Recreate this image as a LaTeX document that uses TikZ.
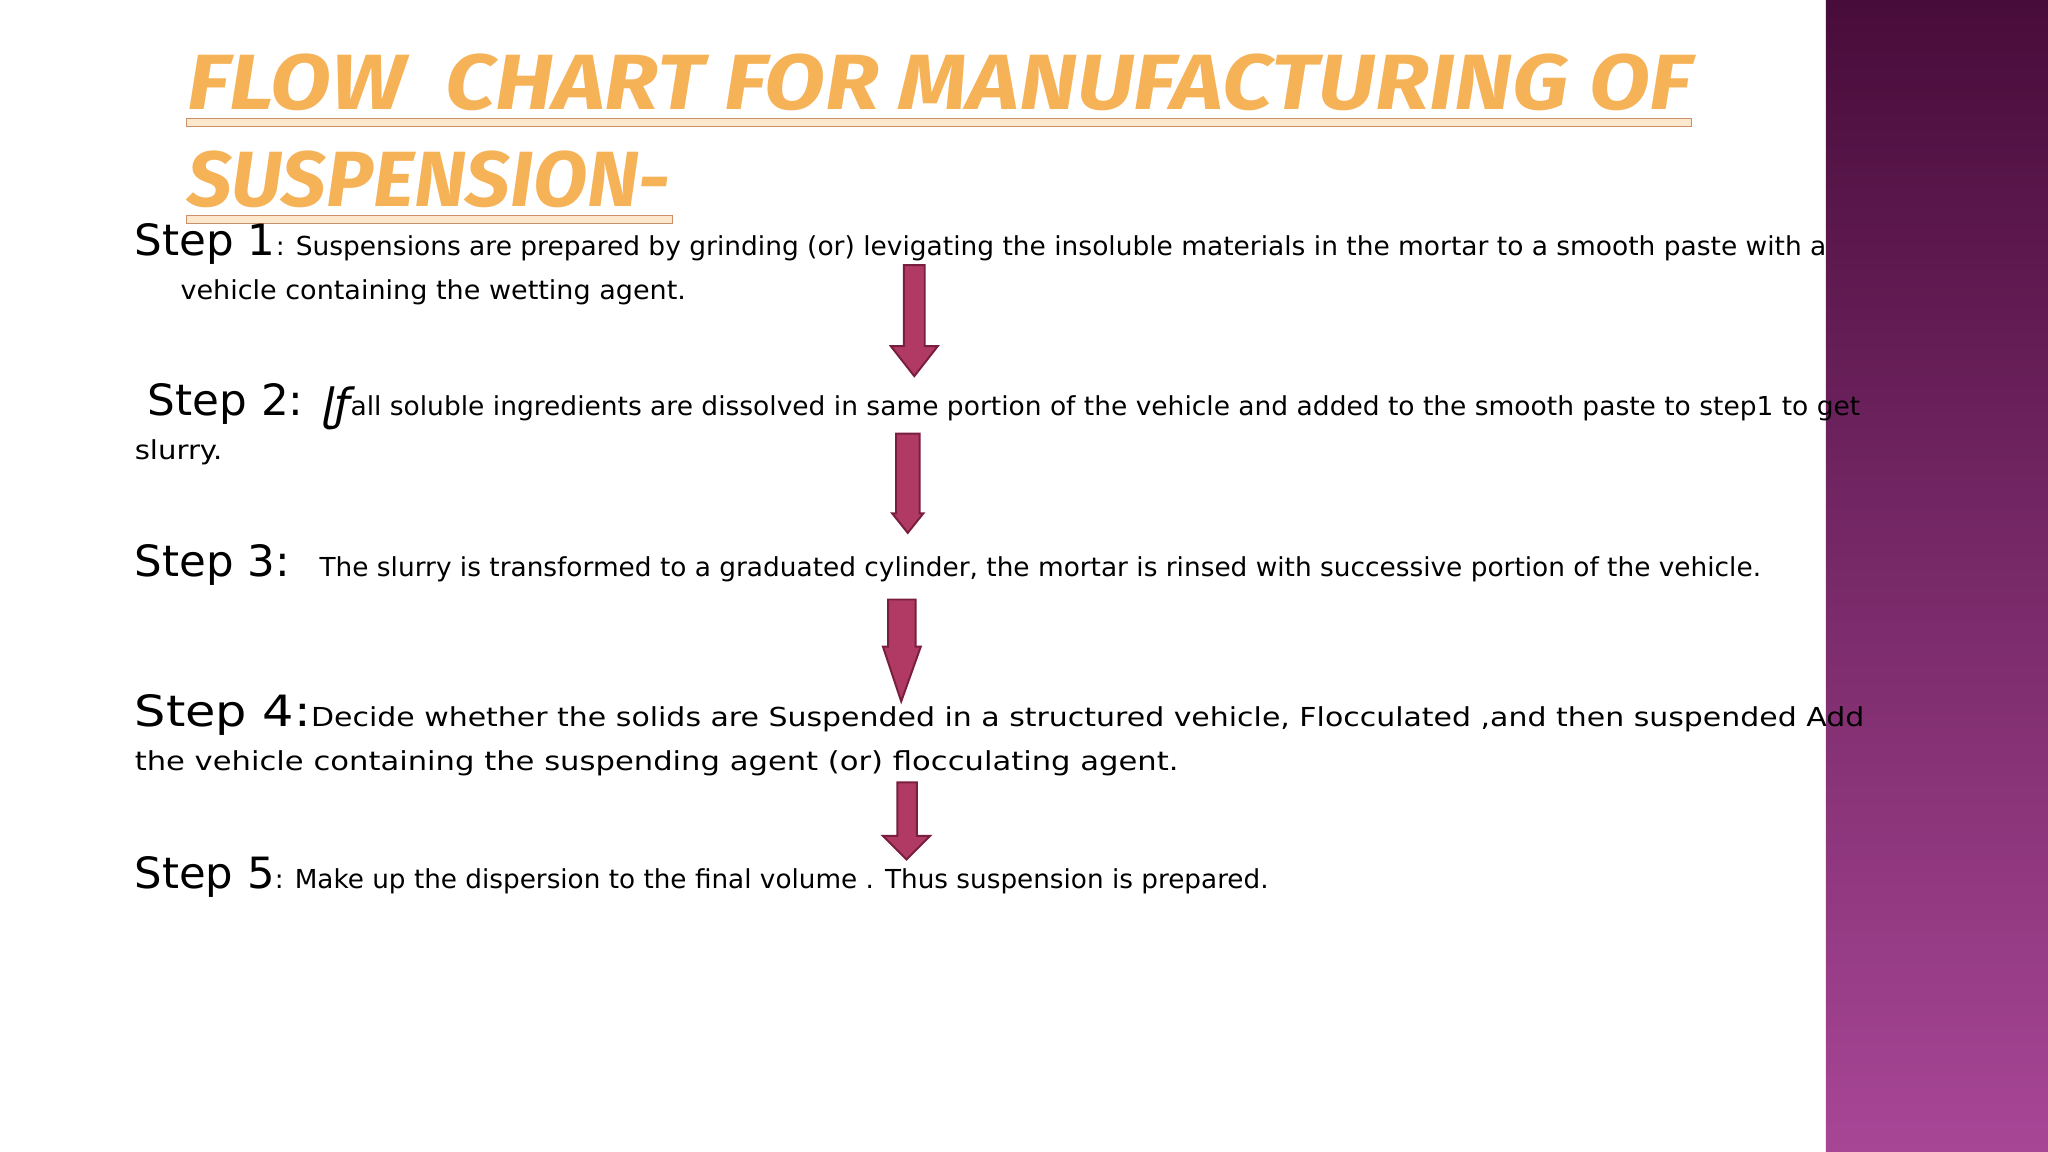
\documentclass[tikz,border=0pt]{standalone}
\usepackage{fontspec}
\usepackage{graphicx}
\setmainfont{DejaVu Sans}
\newfontfamily\titlefont{Fira Sans}
\definecolor{arrfill}{HTML}{B03A63}
\definecolor{arrdraw}{HTML}{7A1E40}
\definecolor{ttl}{HTML}{F6B257}
\definecolor{ttlline}{HTML}{C9906A}
\tikzset{
  txt/.style={anchor=base west, inner sep=0pt, font=\fontsize{20}{24}\selectfont},
  ttlnode/.style={anchor=base west, inner sep=0pt, text=ttl, font=\titlefont\bfseries\itshape\fontsize{60}{60}\selectfont},
  blockarrow/.style={fill=arrfill, draw=arrdraw, line width=1.5pt, line join=miter},
}
\newcommand\stp[1]{{\fontsize{33}{36}\selectfont #1}}
\newcommand\fitw[2]{\resizebox{#1pt}{\height}{#2}}
\begin{document}
\begin{tikzpicture}[x=1pt,y=-1pt]
\useasboundingbox (0,0) rectangle (1568,882);
\fill[white] (0,0) rectangle (1568,882);
\shade[top color={rgb,255:red,72;green,12;blue,58}, bottom color={rgb,255:red,168;green,70;blue,150}] (1398,0) rectangle (1568,882);
% title
\node[ttlnode] (t1) at (143,84) {\fitw{1152}{FLOW~~CHART FOR MANUFACTURING OF}};
\node[ttlnode] (t2) at (143,158) {\fitw{370}{SUSPENSION-}};
\draw[ttlline, fill={rgb,255:red,252;green,232;blue,205}, line width=0.8pt] (143,91) rectangle (1295,97);
\draw[ttlline, fill={rgb,255:red,252;green,232;blue,205}, line width=0.8pt] (143,165) rectangle (515,171);
% steps
\node[txt] (s1a) at (103,196) {\fitw{1295}{\stp{Step 1}: Suspensions are prepared by grinding (or) levigating the insoluble materials in the mortar to a smooth paste with a}};
\node[txt] (s1b) at (138,229) {\fitw{387}{vehicle containing the wetting agent.}};
\node[txt] (s2a) at (113,318) {\fitw{1311}{\stp{Step 2: }\raisebox{-4pt}{\fontsize{34}{34}\selectfont\itshape ɭƒ}all soluble ingredients are dissolved in same portion of the vehicle and added to the smooth paste to step1 to get}};
\node[txt] (s2b) at (103,352) {\fitw{67}{slurry.}};
\node[txt] (s3) at (103,441) {\fitw{1245}{\stp{Step 3: } The slurry is transformed to a graduated cylinder, the mortar is rinsed with successive portion of the vehicle.}};
\node[txt] (s4a) at (103,556) {\fitw{1324}{\stp{Step 4:}Decide whether the solids are Suspended in a structured vehicle, Flocculated ,and then suspended Add}};
\node[txt] (s4b) at (103,590) {\fitw{799}{the vehicle containing the suspending agent (or) flocculating agent.}};
\node[txt] (s5) at (103,680) {\fitw{868}{\stp{Step 5}: Make up the dispersion to the final volume . Thus suspension is prepared.}};
% block arrows
\draw[blockarrow] (692,203) -- (708,203) -- (708,265) -- (718,265) -- (700,288) -- (682,265) -- (692,265) -- cycle;
\draw[blockarrow] (686,332) -- (704,332) -- (704,393) -- (707,393) -- (695,408) -- (683,393) -- (686,393) -- cycle;
\draw[blockarrow] (680,459) -- (701,459) -- (701,495) -- (705,495) -- (690,537) -- (676,495) -- (680,495) -- cycle;
\draw[blockarrow] (687,599) -- (702,599) -- (702,640) -- (712,640) -- (694,658) -- (676,640) -- (687,640) -- cycle;
\end{tikzpicture}
\end{document}
